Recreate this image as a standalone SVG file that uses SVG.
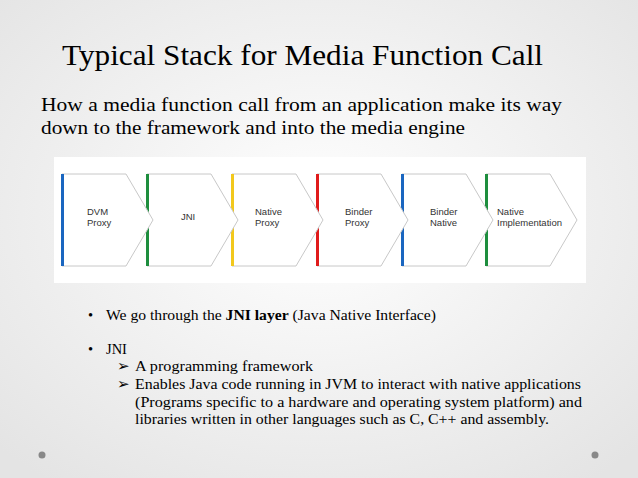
<svg xmlns="http://www.w3.org/2000/svg" width="638" height="478" viewBox="0 0 638 478">
<defs>
<radialGradient id="bg" cx="50%" cy="45%" r="70%"><stop offset="0" stop-color="#ffffff"/><stop offset="1" stop-color="#e4e4e4"/></radialGradient>
<style>
.s{font-family:"Liberation Serif",serif;fill:#000}
.l{font-family:"Liberation Sans",Arial,sans-serif;font-size:9.5px;fill:#333}
.ch{fill:#fff;stroke:#c8c8c8;stroke-width:1}
</style>
</defs>
<rect width="638" height="478" fill="url(#bg)"/>
<text class="s" x="62" y="65" font-size="30" textLength="481" lengthAdjust="spacingAndGlyphs">Typical Stack for Media Function Call</text>
<text class="s" x="41" y="111" font-size="19" textLength="521" lengthAdjust="spacingAndGlyphs">How a media function call from an  application make its way</text>
<text class="s" x="41" y="134" font-size="19" textLength="424" lengthAdjust="spacingAndGlyphs">down to the framework and into the media engine</text>
<rect x="54" y="157" width="532" height="126" fill="#fff"/>
<g id="n6"><polygon class="ch" points="486,174 550,174 577,220 550,266 486,266"/><rect x="485" y="174" width="3" height="92" fill="#1e8e3e"/><text class="l" x="497" y="215">Native</text><text class="l" x="497" y="226">Implementation</text></g>
<g id="n5"><polygon class="ch" points="402,174 466,174 493,220 466,266 402,266"/><rect x="401" y="174" width="3" height="92" fill="#1a66c0"/><text class="l" x="430" y="215">Binder</text><text class="l" x="430" y="226">Native</text></g>
<g id="n4"><polygon class="ch" points="317,174 381,174 408,220 381,266 317,266"/><rect x="316" y="174" width="3" height="92" fill="#e01b1b"/><text class="l" x="345" y="215">Binder</text><text class="l" x="345" y="226">Proxy</text></g>
<g id="n3"><polygon class="ch" points="232,174 296,174 323,220 296,266 232,266"/><rect x="231" y="174" width="3" height="92" fill="#f2c81c"/><text class="l" x="255" y="215">Native</text><text class="l" x="255" y="226">Proxy</text></g>
<g id="n2"><polygon class="ch" points="147,174 211,174 238,220 211,266 147,266"/><rect x="146" y="174" width="3" height="92" fill="#1e8e3e"/><text class="l" x="181" y="220">JNI</text></g>
<g id="n1"><polygon class="ch" points="62,174 126,174 153,220 126,266 62,266"/><rect x="61" y="174" width="3" height="92" fill="#1a66c0"/><text class="l" x="87" y="215">DVM</text><text class="l" x="87" y="226">Proxy</text></g>
<g id="connectors"/>
<g class="s" font-size="14.5">
<text x="88" y="320">•</text><text x="106" y="320" textLength="330" lengthAdjust="spacingAndGlyphs">We go through the <tspan font-weight="bold">JNI layer</tspan> (Java Native Interface)</text>
<text x="88" y="354">•</text><text x="106" y="354">JNI</text>
<text x="117" y="371">➢</text><text x="135" y="371" textLength="178" lengthAdjust="spacingAndGlyphs">A programming framework</text>
<text x="117" y="389">➢</text><text x="135" y="389" textLength="446" lengthAdjust="spacingAndGlyphs">Enables Java code running in JVM to interact with native applications</text>
<text x="135" y="407" textLength="447" lengthAdjust="spacingAndGlyphs">(Programs specific to a hardware and operating system platform) and</text>
<text x="135" y="424" textLength="414" lengthAdjust="spacingAndGlyphs">libraries written in other languages such as C, C++ and assembly.</text>
</g>
<circle cx="42" cy="455" r="3.5" fill="#888"/>
<circle cx="595" cy="455" r="3.5" fill="#888"/>
</svg>
